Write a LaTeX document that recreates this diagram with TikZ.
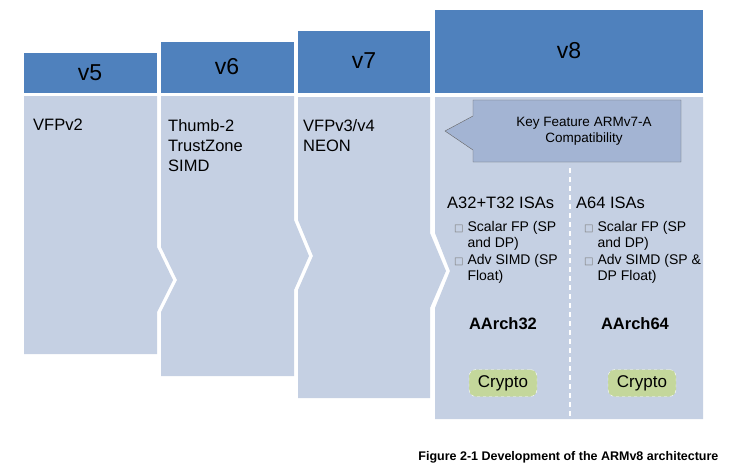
\documentclass[tikz,border=0pt]{standalone}
\usepackage{fontspec}
\setmainfont{Liberation Sans}
\newfontfamily\djfont{DejaVu Sans}
\newcommand\bxx{{\color{gray}\djfont\fontsize{10}{10}\selectfont □}}
\newcommand\bxs{\hphantom{\bxx}}
\begin{document}
\begin{tikzpicture}[x=1pt,y=-1pt,
  hdr/.style={fill=hdrc,draw=none},
  bdy/.style={fill=bdyc,draw=none},
  htxt/.style={font=\fontsize{23}{23}\selectfont,anchor=center},
  btxt/.style={font=\fontsize{16.5}{20}\selectfont,anchor=north west,align=left,inner sep=0},
  stxt/.style={font=\fontsize{14}{16.5}\selectfont,anchor=north west,align=left,inner sep=0},
  crypto/.style={fill=cryc,draw=white,dashed,rounded corners=7pt,minimum width=68pt,minimum height=27pt,inner sep=1pt,font=\fontsize{17}{17}\selectfont}]
\definecolor{hdrc}{HTML}{4F81BD}
\definecolor{bdyc}{HTML}{C5D0E3}
\definecolor{arrc}{HTML}{A3B4D3}
\definecolor{cryc}{HTML}{C4D79B}
\useasboundingbox (0,0) rectangle (740,474);
% headers
\fill[hdr] (24,53) rectangle (157,93);
\fill[hdr] (161,42) rectangle (294,93);
\fill[hdr] (298,31) rectangle (430,93);
\fill[hdr] (435,10) rectangle (703,93);
\node[htxt] (h5) at (90,73) {v5};
\node[htxt] (h6) at (227,67) {v6};
\node[htxt] (h7) at (364,61) {v7};
\node[htxt] (h8) at (569,51) {v8};
% bodies
\fill[bdy] (24,96) -- (157,96) -- (157,247) -- (173,280) -- (157,312) -- (157,354) -- (24,354) -- cycle;
\fill[bdy] (161,96) -- (294,96) -- (294,220) -- (309,256) -- (294,290) -- (294,376) -- (161,376) -- (161,312) -- (177,280) -- (161,247) -- cycle;
\fill[bdy] (298,97) -- (430,97) -- (430,233) -- (446,271) -- (430,308) -- (430,398) -- (298,398) -- (298,290) -- (313,256) -- (298,220) -- cycle;
\fill[bdy] (435,97) -- (703,97) -- (703,419) -- (435,419) -- (435,308) -- (450,271) -- (435,233) -- cycle;
\node[btxt] (t5) at (33,119) {VFPv2};
\node[btxt] (t6) at (168,119) {Thumb-2\\TrustZone\\SIMD};
\node[btxt] (t7) at (303,119) {VFPv3/v4\\NEON};
% arrow
\draw[fill=arrc,draw=gray!80!black] (445,131) -- (473,116) -- (473,100) -- (681,100) -- (681,162) -- (473,162) -- (473,150) -- cycle;
\node[font=\fontsize{13.5}{16}\selectfont,align=center] (key) at (584,131) {Key Feature ARMv7-A\\Compatibility};
\draw[white,line width=2pt,dash pattern=on 5pt off 4pt] (570,168) -- (570,419);
% columns
\node[btxt] (a32) at (447,197) {A32+T32 ISAs};
\node[stxt] (b32) at (454,221) {\bxx\ Scalar FP (SP\\\bxs\ and DP)\\\bxx\ Adv SIMD (SP\\\bxs\ Float)};
\node[btxt] (a64) at (576,197) {A64 ISAs};
\node[stxt] (b64) at (584,221) {\bxx\ Scalar FP (SP\\\bxs\ and DP)\\\bxx\ Adv SIMD (SP \&\\\bxs\ DP Float)};
\node[font=\bfseries\fontsize{16.5}{17}\selectfont] (aa32) at (503,324) {AArch32};
\node[font=\bfseries\fontsize{16.5}{17}\selectfont] (aa64) at (635,324) {AArch64};
\node[crypto] (c32) at (503,383) {Crypto};
\node[crypto] (c64) at (642,383) {Crypto};
\node[font=\bfseries\fontsize{12.5}{12}\selectfont,anchor=east] (cap) at (722,457) {Figure 2-1 Development of the ARMv8 architecture};
\end{tikzpicture}
\end{document}
